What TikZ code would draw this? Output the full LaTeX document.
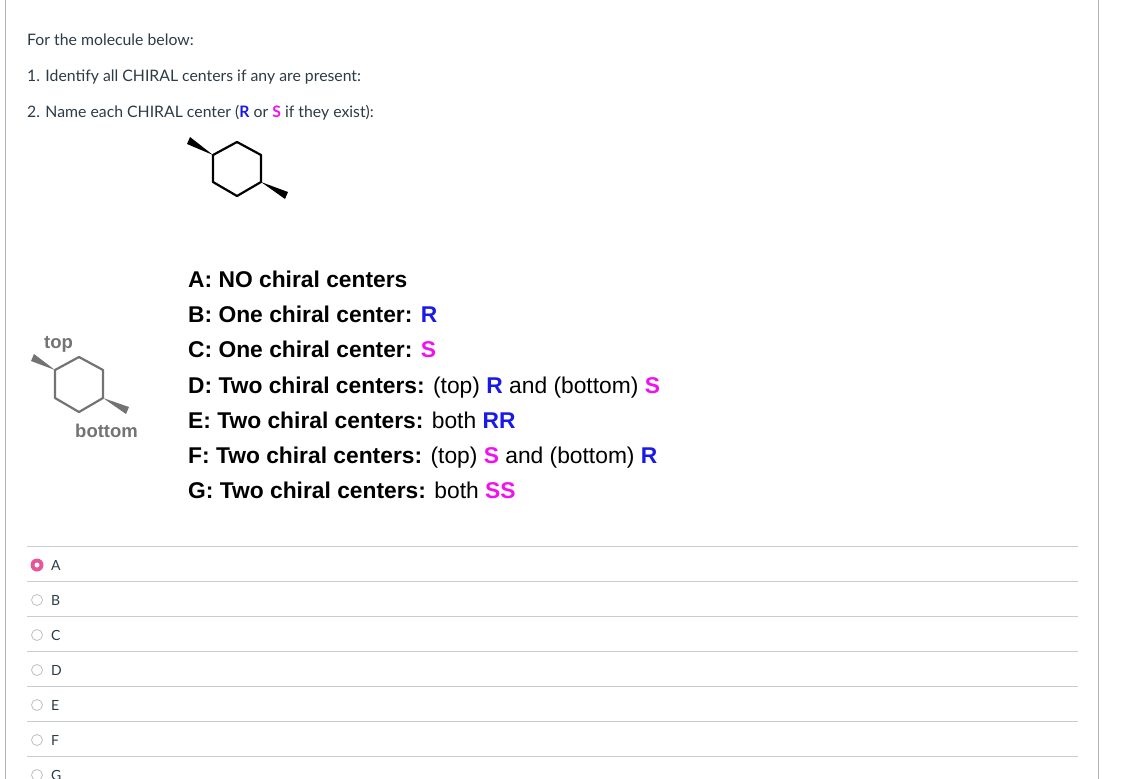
\documentclass[tikz,border=0pt]{standalone}
\usepackage{fontspec}
\setmainfont{Lato}
\newfontfamily\arial{Liberation Sans}
\definecolor{qtext}{HTML}{2D3B45}
\definecolor{rblue}{HTML}{1A1AE6}
\definecolor{smag}{HTML}{F010F0}
\definecolor{sep}{HTML}{C7CDD1}
\definecolor{pinky}{HTML}{E8559A}
\begin{document}
\begin{tikzpicture}[x=1pt,y=-1pt,
  qline/.style={anchor=base west,inner sep=0,text=qtext,font=\fontsize{15.8}{18}\selectfont},
  ans/.style={anchor=base west,inner sep=0,text=black,font=\arial\fontsize{22.8}{26}\selectfont},
  radio/.style={circle,draw=black!25,line width=0.8pt,minimum size=11pt,inner sep=0},
  lett/.style={anchor=west,inner sep=0,text=qtext,font=\fontsize{14}{16}\selectfont},
  bond/.style={line width=2.2pt,line join=round},
]
\useasboundingbox (0,0) rectangle (1133,779);
\draw[black!30,line width=0.8pt] (5,0) -- (5,779) (1098,0) -- (1098,779);
\node[qline] (q0) at (27,45) {For the molecule below:};
\node[qline] (q1) at (27,81) {1. Identify all CHIRAL centers if any are present:};
\node[qline] (q2) at (27,117) {2. Name each CHIRAL center (\textcolor{rblue}{\textbf{R}} or \textcolor{smag}{\textbf{S}} if they exist):};
% top molecule
\draw[bond,black] (213,155)--(237,142)--(261,155)--(261,182)--(237,196)--(213,182)--cycle;
\fill[black] (213,155) -- (190,137) -- (187,144) -- cycle;
\fill[black] (261,182) -- (288,192) -- (285,199) -- cycle;
% labeled molecule
\draw[bond,black!55] (55,370)--(79,357)--(103,370)--(103,398)--(79,412)--(55,398)--cycle;
\fill[black!55] (55,370) -- (34,354) -- (31,361) -- cycle;
\fill[black!55] (103,398) -- (129,407) -- (126,414) -- cycle;
\node[anchor=base west,inner sep=0,text=black!55,font=\arial\bfseries\fontsize{18.5}{20}\selectfont] (top) at (44,348) {top};
\node[anchor=base west,inner sep=0,text=black!55,font=\arial\bfseries\fontsize{18.5}{20}\selectfont] (bot) at (75,437) {bottom};
% answers
\node[ans] (a) at (188,287) {\textbf{A: NO chiral centers}};
\node[ans] (b) at (188,322) {\textbf{B: One chiral center: \textcolor{rblue}{R}}};
\node[ans] (c) at (188,357) {\textbf{C: One chiral center: \textcolor{smag}{S}}};
\node[ans] (d) at (188,393) {\textbf{D: Two chiral centers:} (top) \textbf{\textcolor{rblue}{R}} and (bottom) \textbf{\textcolor{smag}{S}}};
\node[ans] (e) at (188,428) {\textbf{E: Two chiral centers:} both \textbf{\textcolor{rblue}{RR}}};
\node[ans] (f) at (188,463) {\textbf{F: Two chiral centers:} (top) \textbf{\textcolor{smag}{S}} and (bottom) \textbf{\textcolor{rblue}{R}}};
\node[ans] (g) at (188,498) {\textbf{G: Two chiral centers:} both \textbf{\textcolor{smag}{SS}}};
% options
\foreach \yy in {546,581,616,651,686,721,756} \draw[sep,line width=0.8pt] (27,\yy) -- (1078,\yy);
\node[circle,fill=pinky,minimum size=13pt,inner sep=0] (ra) at (37,565) {};
\node[circle,fill=white,minimum size=5pt,inner sep=0] at (ra) {};
\node[lett] (la) at (51,565) {A};
\node[radio] (rb) at (37,600) {}; \node[lett] at (51,600) {B};
\node[radio] (rc) at (37,635) {}; \node[lett] at (51,635) {C};
\node[radio] (rd) at (37,670) {}; \node[lett] at (51,670) {D};
\node[radio] (re) at (37,705) {}; \node[lett] at (51,705) {E};
\node[radio] (rf) at (37,740) {}; \node[lett] at (51,740) {F};
\node[radio] (rg) at (37,775) {}; \node[lett] at (51,775) {G};
\end{tikzpicture}
\end{document}
